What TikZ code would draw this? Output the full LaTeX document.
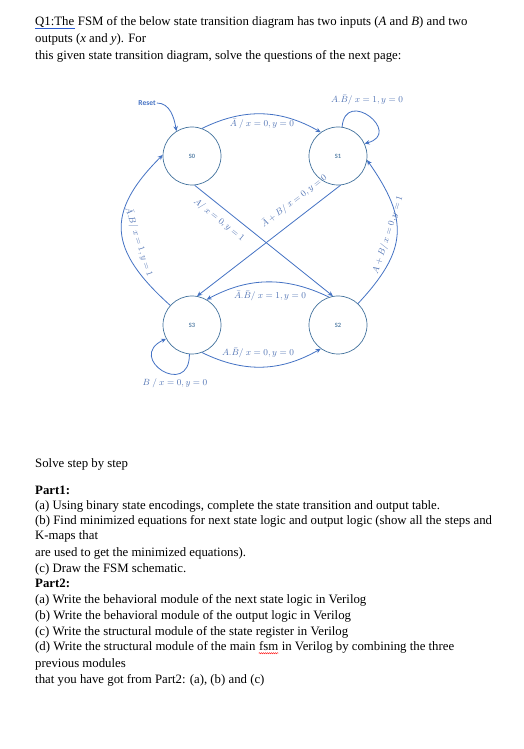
\documentclass[tikz,border=0pt]{standalone}
\usepackage{amsmath}
\usepackage{fontspec}
\setmainfont{Liberation Serif}
\newfontfamily\calibri{Carlito}
\usetikzlibrary{arrows.meta, decorations.pathmorphing}
\definecolor{arrowblue}{RGB}{68,114,196}
\definecolor{ringblue}{RGB}{65,113,156}
\definecolor{labelblue}{RGB}{80,115,180}
\definecolor{gramblue}{RGB}{40,90,210}

\begin{document}
\begin{tikzpicture}[x=1pt, y=1pt, >={Stealth[length=5pt, width=4.5pt]},
    fsmstate/.style={circle, draw=ringblue, line width=0.7pt, minimum size=58pt, inner sep=0pt,
        font=\calibri\bfseries\fontsize{6.5}{7}\selectfont, text=ringblue!85},
    trans/.style={->, draw=arrowblue, line width=0.8pt},
    trlabel/.style={font=\fontsize{9}{10}\selectfont, text=labelblue, inner sep=0.5pt},
    txt/.style={anchor=base west, inner sep=0pt, font=\fontsize{12.8}{14}\selectfont}]
\fill[white] (0,0) rectangle (523,749);
\useasboundingbox (0,0) rectangle (523,749);

% heading
\node[txt] (q1) at (35,723) {Q1:The};
\node[txt] (q1rest) at (q1.base east) {\ FSM of the below state transition diagram has two inputs (\textit{A} and \textit{B}) and two};
\draw[gramblue, line width=0.6pt] ([yshift=-2pt]q1.base west) -- ([yshift=-2pt]q1.base east);
\node[txt] (head2) at (35,706) {outputs (\textit{x} and \textit{y}). For};
\node[txt] (head3) at (35,689) {this given state transition diagram, solve the questions of the next page:};

% states
\node[fsmstate] (s0) at (192,593) {S0};
\node[fsmstate] (s1) at (338,593) {S1};
\node[fsmstate] (s3) at (192,424) {S3};
\node[fsmstate] (s2) at (338,424) {S2};

% reset
\node[font=\calibri\bfseries\fontsize{7.5}{8}\selectfont, text=arrowblue, inner sep=1pt] (reset) at (147,646) {Reset};
\draw[trans] (reset.east) to[out=0, in=100] (s0.122);

% transitions
\draw[trans] (s0.70) to[bend left=28] (s1.126);
\draw[trans] (s1.82) .. controls +(85:40) and +(15:40) .. (s1.25);
\draw[trans] (s0.-85) -- (s2.100);
\draw[trans] (s1.-85) -- (s3.80);
\draw[trans] (s3.138) to[out=138, in=-135, looseness=1.4] (s0.178);
\draw[trans] (s2.47) to[out=47, in=-55, looseness=1.3] (s1.-8);
\draw[trans] (s2.108) to[bend right=27] (s3.60);
\draw[trans] (s3.-70) to[bend right=28] (s2.-126);
\draw[trans] (s3.-95) .. controls +(-90:45) and +(-155:45) .. (s3.-152);

% labels
\node[trlabel] (l01) at (262,625) {$\bar{A}\ /\ x=0,y=0$};
\node[trlabel] (l11) at (367,649) {$A.\bar{B}/\ x=1,y=0$};
\node[trlabel, rotate=-38.5] (l02) at (219,529) {$A/\ x=0,y=1$};
\node[trlabel, rotate=38] (l13) at (294,548) {$\bar{A}+B/\ x=0,y=0$};
\node[trlabel, rotate=-72] (l30) at (139,507) {$\bar{A}.B/\ x=1,y=1$};
\node[trlabel, rotate=72] (l21) at (388,514) {$A+B/\ x=0,y=1$};
\node[trlabel] (l23) at (270,453) {$\bar{A}.\bar{B}/\ x=1,y=0$};
\node[trlabel] (l32) at (258,396) {$A.\bar{B}/\ x=0,y=0$};
\node[trlabel] (l33) at (175,366) {$B\ /\ x=0,y=0$};

% questions
\node[txt] (solve) at (35,281) {Solve step by step};
\node[txt] (part1) at (35,254) {\textbf{Part1:}};
\node[txt] (p1a) at (35,239) {(a) Using binary state encodings, complete the state transition and output table.};
\node[txt] (p1b) at (35,224) {(b) Find minimized equations for next state logic and output logic (show all the steps and};
\node[txt] (p1b2) at (35,209) {K-maps that};
\node[txt] (p1b3) at (35,192) {are used to get the minimized equations).};
\node[txt] (p1c) at (35,176) {(c) Draw the FSM schematic.};
\node[txt] (part2) at (35,161) {\textbf{Part2:}};
\node[txt] (p2a) at (35,145) {(a) Write the behavioral module of the next state logic in Verilog};
\node[txt] (p2b) at (35,129) {(b) Write the behavioral module of the output logic in Verilog};
\node[txt] (p2c) at (35,113) {(c) Write the structural module of the state register in Verilog};
\node[txt] (p2d) at (35,98) {(d) Write the structural module of the main};
\node[txt] (fsm) at ([xshift=3.2pt]p2d.base east) {fsm};
\node[txt] (p2drest) at (fsm.base east) {\ in Verilog by combining the three};
\draw[red, line width=0.4pt, decorate, decoration={snake, amplitude=0.6pt, segment length=2pt}]
    ([yshift=-2.2pt]fsm.base west) -- ([yshift=-2.2pt]fsm.base east);
\node[txt] (p2d2) at (35,81) {previous modules};
\node[txt] (p2d3) at (35,65) {that you have got from Part2: (a), (b) and (c)};
\end{tikzpicture}
\end{document}
